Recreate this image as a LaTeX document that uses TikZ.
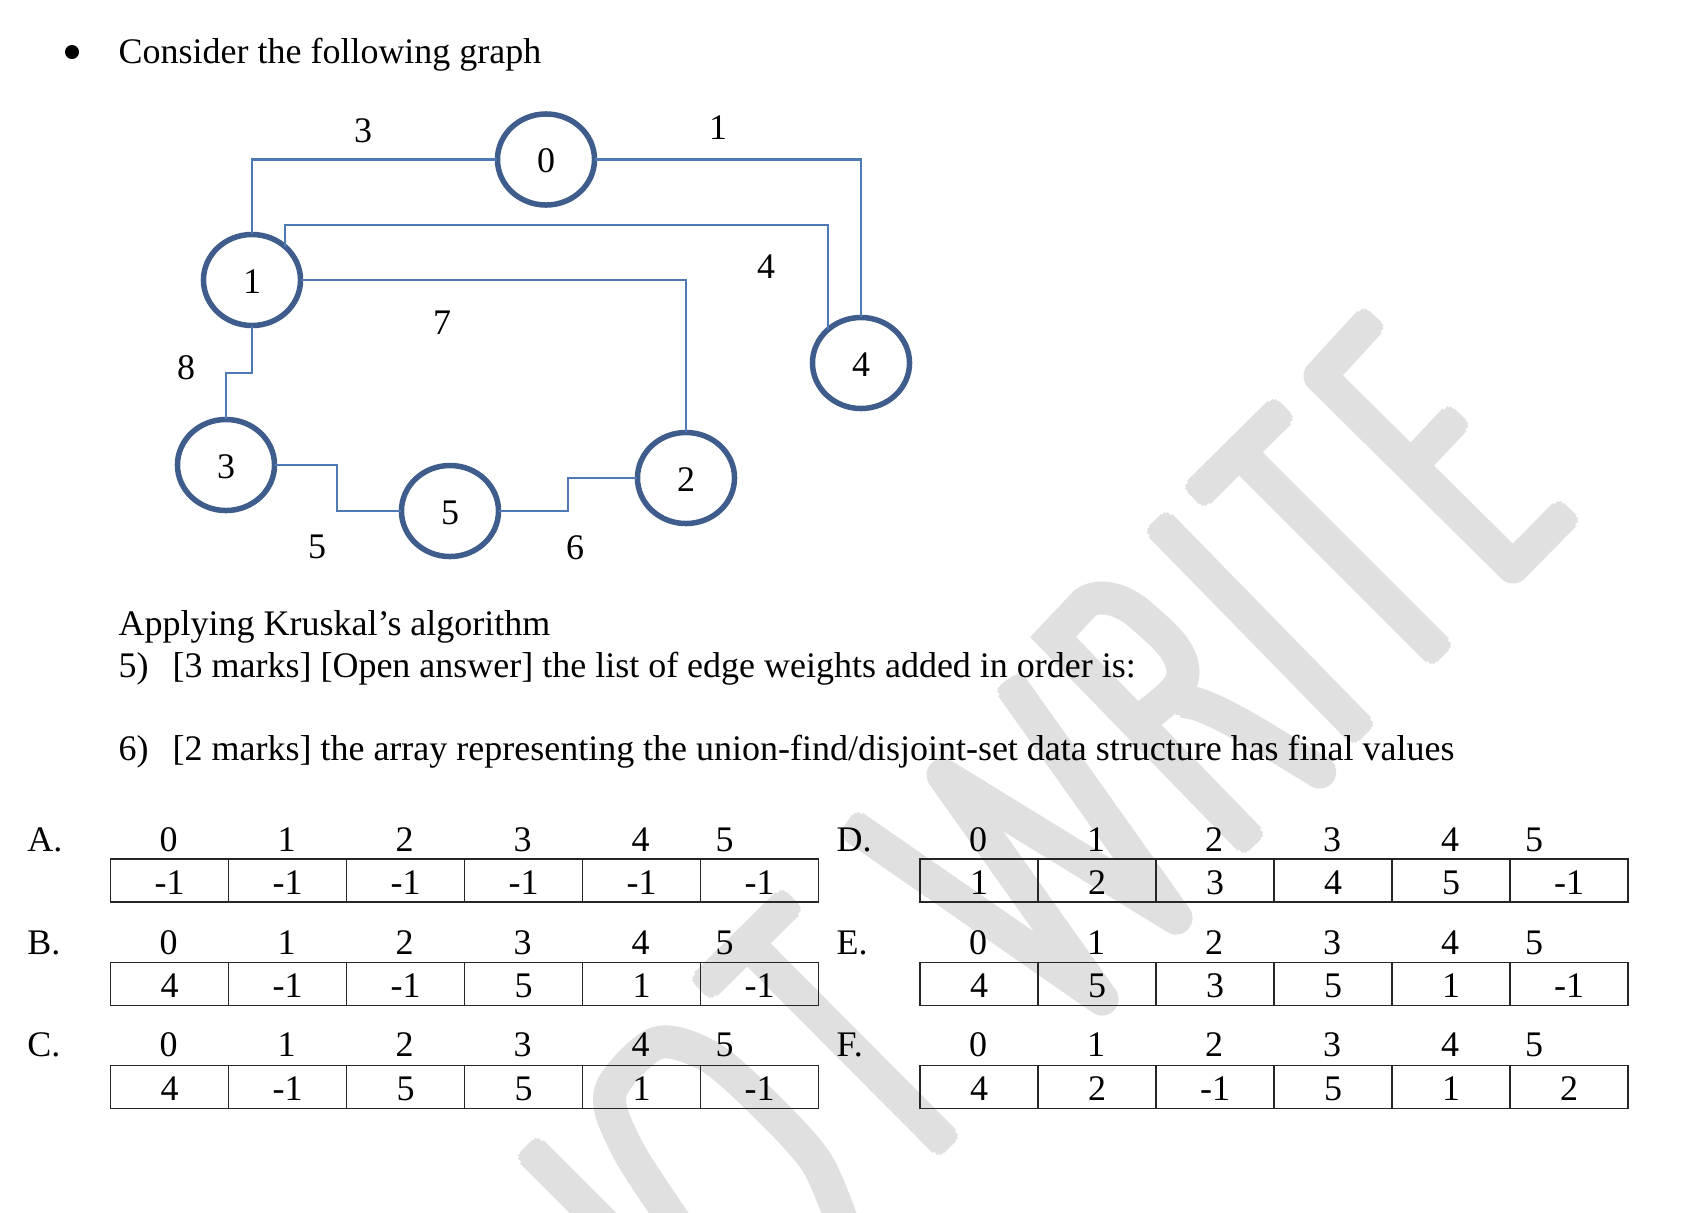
\documentclass[tikz,border=0pt]{standalone}
\usepackage{fontspec}
\setmainfont{Liberation Serif}
\usetikzlibrary{shapes.geometric}
\definecolor{wmgray}{HTML}{E0E0E0}
\definecolor{nodeblue}{HTML}{3F5D8C}
\definecolor{edgeblue}{HTML}{4F79B5}
\newcommand{\arrayrow}[5]{%
  \node[txt, anchor=base west] (lab#1) at ({#2-84},{#3-#5}) {#1.};
  \foreach \hx [count=\k from 0] in {58,176,294,412,530,614}
    \node[txt, anchor=base] (head#1\k) at ({#2+\hx},{#3-#5}) {\k};
  \foreach \val [count=\k from 0] in {#4}
    \node[cell] (cell#1\k) at ({#2+59+118*\k},{#3+21.5}) {\val};
}

\begin{document}
\begin{tikzpicture}[x=0.01cm, y=-0.01cm,
    every node/.style={font=\fontsize{10.23}{12}\selectfont},
    txt/.style={inner sep=0pt},
    wlayer/.style 2 args={preaction={draw=wmgray, line join=round, line width=#1, shorten >=#2, shorten <=#2}},
    wmark/.style={draw=wmgray, line width=0.33cm, line join=round, shorten >=0.08cm, shorten <=0.08cm,
      wlayer={0.17cm}{0pt}, wlayer={0.25cm}{0.01cm}, wlayer={0.29cm}{0.03cm}},
    vert/.style={ellipse, draw=nodeblue, line width=0.055cm, minimum width=0.97cm, minimum height=0.91cm, inner sep=0pt, outer sep=0pt, text height=0.26cm, text depth=0pt},
    wire/.style={draw=edgeblue, line width=0.022cm},
    cell/.style={draw=black!85, line width=0.45pt, minimum width=1.18cm, minimum height=0.43cm, inner sep=0pt, text height=0.27cm, text depth=0pt}]
  \useasboundingbox (0,0) rectangle (1698,1212);

  % watermark
  \begin{scope}
    \clip (0,0) rectangle (1698,1212);
    % E
    \draw[wmark] (1375,316) -- (1320,376) -- (1513,567) -- (1570,509);
    \draw[wmark] (1411,466) -- (1460,414);
    % T
    \draw[wmark] (1193,498) -- (1285,407);
    \draw[wmark] (1239,452) -- (1443,656);
    % I
    \draw[wmark] (1155,520) -- (1365,735);
    % R
    \draw[wmark, line join=miter] (1255,845) -- (1053,637) -- (1085,603) .. controls (1100,592) and (1125,600) .. (1143,617)
      .. controls (1160,632) and (1183,650) .. (1183,672) .. controls (1183,690) and (1165,700) .. (1133,727);
    \draw[wmark] plot[smooth] coordinates {(1175,700) (1205,707) (1245,727) (1326,776)};
    % W
    \draw[wmark] (847,822) -- (1102,999) -- (943,775) -- (1176,918) -- (1007,680);
    % T
    \draw[wmark] (700,990) -- (793,898);
    \draw[wmark] (747,943) -- (950,1147);
    % O
    \draw[wmark] plot[smooth] coordinates {(680,1230) (623,1140) (611,1090) (657,1043) (710,1057) (767,1107) (817,1163) (845,1230)};
    % N
    \draw[wmark] (526,1146) -- (620,1240);
  \end{scope}

  % heading
  \node[circle, fill=black, minimum size=0.14cm, inner sep=0pt] (bullet) at (72,52) {};
  \node[txt, anchor=base west] (title) at (118,63.5) {Consider the following graph};

  % vertices
  \node[vert] (n0) at (546,159.5) {0};
  \node[vert] (n1) at (252,280) {1};
  \node[vert] (n2) at (686,478) {2};
  \node[vert] (n3) at (226,465) {3};
  \node[vert] (n4) at (861,363) {4};
  \node[vert] (n5) at (450,511) {5};
  % bends
  \coordinate (c14) at (550,225);
  \coordinate (c13) at (226,373);
  \coordinate (c35) at (337,511);
  \coordinate (c52) at (568,478);

  % edges
  \draw[wire] (n0.west) -| (n1.north);
  \draw[wire] (n0.east) -| (n4.north);
  \draw[wire] (n1.45) |- (c14) -| (n4.135);
  \draw[wire] (n1.east) -| (n2.north);
  \draw[wire] (n1.south) |- (c13) -- (n3.north);
  \draw[wire] (n3.east) -| (c35) -- (n5.west);
  \draw[wire] (n5.east) -| (c52) -- (n2.west);

  % weights
  \node[txt] (w3) at (363,131) {3};
  \node[txt] (w1) at (718,128) {1};
  \node[txt] (w4) at (766,266.5) {4};
  \node[txt] (w7) at (442,323) {7};
  \node[txt] (w8) at (186,368) {8};
  \node[txt] (w5) at (317,547) {5};
  \node[txt] (w6) at (575,548) {6};

  % questions
  \node[txt, anchor=base west] (intro) at (118,635) {Applying Kruskal’s algorithm};
  \node[txt, anchor=base west] (q5) at (118,677) {5)};
  \node[txt, anchor=base west] (q5t) at (172,677) {[3 marks] [Open answer] the list of edge weights added in order is:};
  \node[txt, anchor=base west] (q6) at (118,760) {6)};
  \node[txt, anchor=base west] (q6t) at (172,760) {[2 marks] the array representing the union-find/disjoint-set data structure has final values};

  % answer arrays
  \arrayrow{A}{110.6}{859}{-1,-1,-1,-1,-1,-1}{8}
  \arrayrow{B}{110.6}{962.5}{4,-1,-1,5,1,-1}{8.5}
  \arrayrow{C}{110.6}{1065.5}{4,-1,5,5,1,-1}{9}
  \arrayrow{D}{920}{859}{1,2,3,4,5,-1}{8}
  \arrayrow{E}{920}{962.5}{4,5,3,5,1,-1}{8.5}
  \arrayrow{F}{920}{1065.5}{4,2,-1,5,1,2}{9}
\end{tikzpicture}
\end{document}
